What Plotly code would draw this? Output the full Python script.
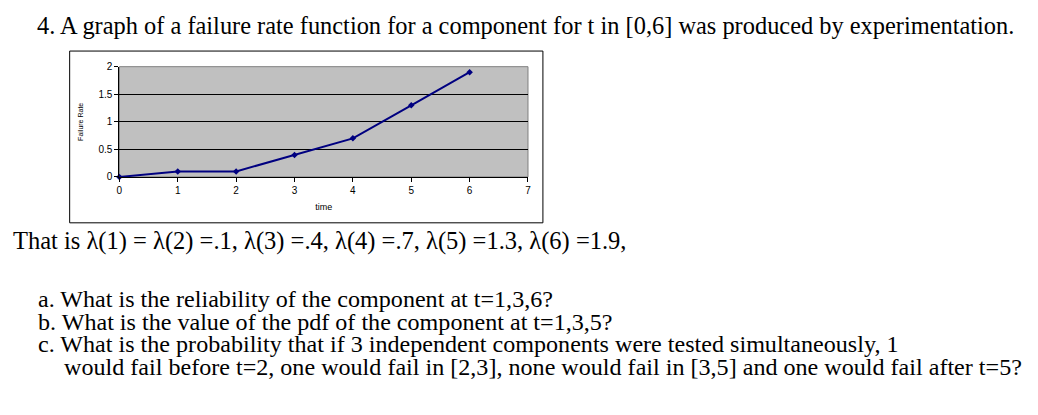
import plotly.graph_objects as go

# failure rate readings
time = [0, 1, 2, 3, 4, 5, 6]
failure_rate = [0, 0.1, 0.1, 0.4, 0.7, 1.3, 1.9]

x_ticks = [0, 1, 2, 3, 4, 5, 6, 7]
y_ticks = [0, 0.5, 1, 1.5, 2]
y_tick_labels = ["0", "0.5", "1", "1.5", "2"]

title_line = "4. A graph of a failure rate function for a component for t in [0,6] was produced by experimentation."
that_line = "That is λ(1) = λ(2) =.1, λ(3) =.4, λ(4) =.7, λ(5) =1.3, λ(6) =1.9,"
question_lines = [
    "a. What is the reliability of the component at t=1,3,6?",
    "b. What is the value of the pdf of the component at t=1,3,5?",
    "c. What is the probability that if 3 independent components were tested simultaneously, 1",
    "would fail before t=2, one would fail in [2,3], none would fail in [3,5] and one would fail after t=5?",
]
question_left = [33, 33, 33, 59]

W, H = 1038, 415
OFF = 8  # page body margin

def px_x(v):
    return (v - OFF) / W

def px_y(v):
    return 1 - (v - OFF) / H

fig = go.Figure()
fig.add_trace(go.Scatter(
    x=time, y=failure_rate, mode="lines+markers",
    line=dict(color="#000080", width=2),
    marker=dict(symbol="diamond", size=5, color="#000080"),
    showlegend=False, cliponaxis=False,
))

serif = "Liberation Serif, Times New Roman, serif"
sans = "Liberation Sans, Arial, sans-serif"

fig.update_layout(
    width=W, height=H,
    margin=dict(l=0, r=0, t=0, b=0),
    paper_bgcolor="white",
    plot_bgcolor="#c0c0c0",
    xaxis=dict(
        domain=[px_x(117), px_x(528)], range=[0, 7],
        tickvals=x_ticks, ticks="outside", ticklen=4, tickcolor="black",
        showgrid=False, showline=True, linecolor="black", linewidth=1,
        zeroline=False, tickfont=dict(family=sans, size=10, color="black"),
        title=dict(text="time", font=dict(family=sans, size=9, color="black"), standoff=8),
        fixedrange=True,
    ),
    yaxis=dict(
        domain=[px_y(176), px_y(63)], range=[0, 2],
        tickvals=y_ticks, ticktext=y_tick_labels,
        ticks="outside", ticklen=4, tickcolor="black",
        showgrid=True, gridcolor="black", gridwidth=1,
        showline=True, linecolor="black", linewidth=1,
        zeroline=False, tickfont=dict(family=sans, size=10, color="black"),
        title=dict(text="Failure Rate", font=dict(family=sans, size=7, color="black"), standoff=14),
        fixedrange=True,
    ),
    font=dict(family=serif, color="black"),
)

# chart frame and plot area border
fig.add_shape(type="rect", xref="paper", yref="paper",
              x0=px_x(67), x1=px_x(543), y0=px_y(223), y1=px_y(47),
              line=dict(color="black", width=1), layer="below")
fig.add_shape(type="rect", xref="paper", yref="paper",
              x0=px_x(117), x1=px_x(528), y0=px_y(176), y1=px_y(63),
              line=dict(color="#808080", width=1), layer="below")

fig.add_annotation(text=title_line, xref="paper", yref="paper",
                   x=px_x(32), y=px_y(21), xanchor="left", yanchor="middle",
                   showarrow=False, font=dict(family=serif, size=24.4))
fig.add_annotation(text=that_line, xref="paper", yref="paper",
                   x=px_x(8), y=px_y(242), xanchor="left", yanchor="middle",
                   showarrow=False, font=dict(family=serif, size=24.5))
for i, line in enumerate(question_lines):
    fig.add_annotation(text=line, xref="paper", yref="paper",
                       x=px_x(question_left[i]), y=px_y(301 + 23.3 * i), xanchor="left", yanchor="middle",
                       showarrow=False, font=dict(family=serif, size=24.1))

fig.write_html("out.html")
